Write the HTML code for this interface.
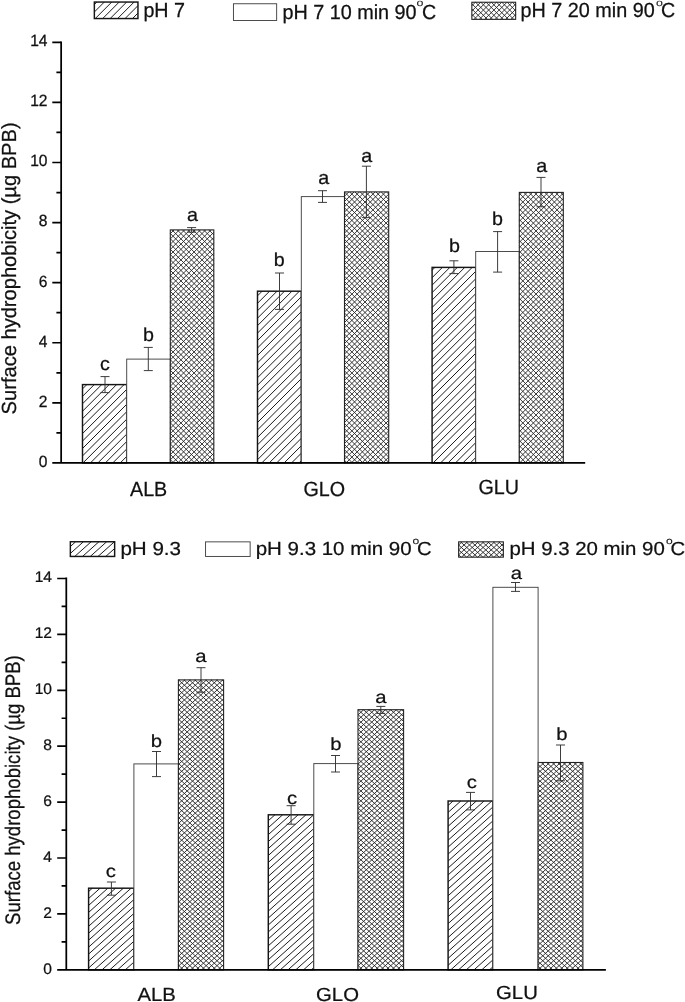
<!DOCTYPE html>
<html lang="en"><head><meta charset="utf-8"><title>Surface hydrophobicity</title>
<style>html,body{margin:0;padding:0;background:#fff}svg{display:block}text{font-family:'Liberation Sans', Arial, sans-serif;fill:#111;stroke:#111;stroke-width:0.25px;text-rendering:geometricPrecision}</style>
</head><body>
<svg width="685" height="1002" viewBox="0 0 685 1002">
<rect width="685" height="1002" fill="#fff"/>
<rect x="82.50" y="384.60" width="44.20" height="78.30" fill="#fff" stroke="none"/>
<path d="M82.50 388.90L86.80 384.60M82.50 396.35L94.25 384.60M82.50 403.80L101.70 384.60M82.50 411.25L109.15 384.60M82.50 418.70L116.60 384.60M82.50 426.15L124.05 384.60M82.50 433.60L126.70 389.40M82.50 441.05L126.70 396.85M82.50 448.50L126.70 404.30M82.50 455.95L126.70 411.75M83.00 462.90L126.70 419.20M90.45 462.90L126.70 426.65M97.90 462.90L126.70 434.10M105.35 462.90L126.70 441.55M112.80 462.90L126.70 449.00M120.25 462.90L126.70 456.45" fill="none" stroke="#1c1c1c" stroke-width="1.0"/>
<rect x="82.50" y="384.60" width="44.20" height="78.30" fill="none" stroke="#151515" stroke-width="1.45"/>
<rect x="126.70" y="359.10" width="43.60" height="103.80" fill="#fff" stroke="#444" stroke-width="0.95"/>
<rect x="170.30" y="229.90" width="43.50" height="233.00" fill="#fff" stroke="none"/>
<path d="M170.30 233.70L174.10 229.90M170.30 238.96L179.36 229.90M170.30 244.22L184.62 229.90M170.30 249.48L189.88 229.90M170.30 254.74L195.14 229.90M170.30 260.00L200.40 229.90M170.30 265.26L205.66 229.90M170.30 270.52L210.92 229.90M170.30 275.78L213.80 232.28M170.30 281.04L213.80 237.54M170.30 286.30L213.80 242.80M170.30 291.56L213.80 248.06M170.30 296.82L213.80 253.32M170.30 302.08L213.80 258.58M170.30 307.34L213.80 263.84M170.30 312.60L213.80 269.10M170.30 317.86L213.80 274.36M170.30 323.12L213.80 279.62M170.30 328.38L213.80 284.88M170.30 333.64L213.80 290.14M170.30 338.90L213.80 295.40M170.30 344.16L213.80 300.66M170.30 349.42L213.80 305.92M170.30 354.68L213.80 311.18M170.30 359.94L213.80 316.44M170.30 365.20L213.80 321.70M170.30 370.46L213.80 326.96M170.30 375.72L213.80 332.22M170.30 380.98L213.80 337.48M170.30 386.24L213.80 342.74M170.30 391.50L213.80 348.00M170.30 396.76L213.80 353.26M170.30 402.02L213.80 358.52M170.30 407.28L213.80 363.78M170.30 412.54L213.80 369.04M170.30 417.80L213.80 374.30M170.30 423.06L213.80 379.56M170.30 428.32L213.80 384.82M170.30 433.58L213.80 390.08M170.30 438.84L213.80 395.34M170.30 444.10L213.80 400.60M170.30 449.36L213.80 405.86M170.30 454.62L213.80 411.12M170.30 459.88L213.80 416.38M172.54 462.90L213.80 421.64M177.80 462.90L213.80 426.90M183.06 462.90L213.80 432.16M188.32 462.90L213.80 437.42M193.58 462.90L213.80 442.68M198.84 462.90L213.80 447.94M204.10 462.90L213.80 453.20M209.36 462.90L213.80 458.46M208.80 229.90L213.80 234.90M203.54 229.90L213.80 240.16M198.28 229.90L213.80 245.42M193.02 229.90L213.80 250.68M187.76 229.90L213.80 255.94M182.50 229.90L213.80 261.20M177.24 229.90L213.80 266.46M171.98 229.90L213.80 271.72M170.30 233.48L213.80 276.98M170.30 238.74L213.80 282.24M170.30 244.00L213.80 287.50M170.30 249.26L213.80 292.76M170.30 254.52L213.80 298.02M170.30 259.78L213.80 303.28M170.30 265.04L213.80 308.54M170.30 270.30L213.80 313.80M170.30 275.56L213.80 319.06M170.30 280.82L213.80 324.32M170.30 286.08L213.80 329.58M170.30 291.34L213.80 334.84M170.30 296.60L213.80 340.10M170.30 301.86L213.80 345.36M170.30 307.12L213.80 350.62M170.30 312.38L213.80 355.88M170.30 317.64L213.80 361.14M170.30 322.90L213.80 366.40M170.30 328.16L213.80 371.66M170.30 333.42L213.80 376.92M170.30 338.68L213.80 382.18M170.30 343.94L213.80 387.44M170.30 349.20L213.80 392.70M170.30 354.46L213.80 397.96M170.30 359.72L213.80 403.22M170.30 364.98L213.80 408.48M170.30 370.24L213.80 413.74M170.30 375.50L213.80 419.00M170.30 380.76L213.80 424.26M170.30 386.02L213.80 429.52M170.30 391.28L213.80 434.78M170.30 396.54L213.80 440.04M170.30 401.80L213.80 445.30M170.30 407.06L213.80 450.56M170.30 412.32L213.80 455.82M170.30 417.58L213.80 461.08M170.30 422.84L210.36 462.90M170.30 428.10L205.10 462.90M170.30 433.36L199.84 462.90M170.30 438.62L194.58 462.90M170.30 443.88L189.32 462.90M170.30 449.14L184.06 462.90M170.30 454.40L178.80 462.90M170.30 459.66L173.54 462.90" fill="none" stroke="#262626" stroke-width="0.92"/>
<rect x="170.30" y="229.90" width="43.50" height="233.00" fill="none" stroke="#222" stroke-width="1.1"/>
<rect x="257.50" y="291.20" width="43.80" height="171.70" fill="#fff" stroke="none"/>
<path d="M257.50 295.85L262.15 291.20M257.50 303.30L269.60 291.20M257.50 310.75L277.05 291.20M257.50 318.20L284.50 291.20M257.50 325.65L291.95 291.20M257.50 333.10L299.40 291.20M257.50 340.55L301.30 296.75M257.50 348.00L301.30 304.20M257.50 355.45L301.30 311.65M257.50 362.90L301.30 319.10M257.50 370.35L301.30 326.55M257.50 377.80L301.30 334.00M257.50 385.25L301.30 341.45M257.50 392.70L301.30 348.90M257.50 400.15L301.30 356.35M257.50 407.60L301.30 363.80M257.50 415.05L301.30 371.25M257.50 422.50L301.30 378.70M257.50 429.95L301.30 386.15M257.50 437.40L301.30 393.60M257.50 444.85L301.30 401.05M257.50 452.30L301.30 408.50M257.50 459.75L301.30 415.95M261.80 462.90L301.30 423.40M269.25 462.90L301.30 430.85M276.70 462.90L301.30 438.30M284.15 462.90L301.30 445.75M291.60 462.90L301.30 453.20M299.05 462.90L301.30 460.65" fill="none" stroke="#1c1c1c" stroke-width="1.0"/>
<rect x="257.50" y="291.20" width="43.80" height="171.70" fill="none" stroke="#151515" stroke-width="1.45"/>
<rect x="301.30" y="196.60" width="43.20" height="266.30" fill="#fff" stroke="#444" stroke-width="0.95"/>
<rect x="344.50" y="191.90" width="44.20" height="271.00" fill="#fff" stroke="none"/>
<path d="M344.50 196.26L348.86 191.90M344.50 201.52L354.12 191.90M344.50 206.78L359.38 191.90M344.50 212.04L364.64 191.90M344.50 217.30L369.90 191.90M344.50 222.56L375.16 191.90M344.50 227.82L380.42 191.90M344.50 233.08L385.68 191.90M344.50 238.34L388.70 194.14M344.50 243.60L388.70 199.40M344.50 248.86L388.70 204.66M344.50 254.12L388.70 209.92M344.50 259.38L388.70 215.18M344.50 264.64L388.70 220.44M344.50 269.90L388.70 225.70M344.50 275.16L388.70 230.96M344.50 280.42L388.70 236.22M344.50 285.68L388.70 241.48M344.50 290.94L388.70 246.74M344.50 296.20L388.70 252.00M344.50 301.46L388.70 257.26M344.50 306.72L388.70 262.52M344.50 311.98L388.70 267.78M344.50 317.24L388.70 273.04M344.50 322.50L388.70 278.30M344.50 327.76L388.70 283.56M344.50 333.02L388.70 288.82M344.50 338.28L388.70 294.08M344.50 343.54L388.70 299.34M344.50 348.80L388.70 304.60M344.50 354.06L388.70 309.86M344.50 359.32L388.70 315.12M344.50 364.58L388.70 320.38M344.50 369.84L388.70 325.64M344.50 375.10L388.70 330.90M344.50 380.36L388.70 336.16M344.50 385.62L388.70 341.42M344.50 390.88L388.70 346.68M344.50 396.14L388.70 351.94M344.50 401.40L388.70 357.20M344.50 406.66L388.70 362.46M344.50 411.92L388.70 367.72M344.50 417.18L388.70 372.98M344.50 422.44L388.70 378.24M344.50 427.70L388.70 383.50M344.50 432.96L388.70 388.76M344.50 438.22L388.70 394.02M344.50 443.48L388.70 399.28M344.50 448.74L388.70 404.54M344.50 454.00L388.70 409.80M344.50 459.26L388.70 415.06M346.12 462.90L388.70 420.32M351.38 462.90L388.70 425.58M356.64 462.90L388.70 430.84M361.90 462.90L388.70 436.10M367.16 462.90L388.70 441.36M372.42 462.90L388.70 446.62M377.68 462.90L388.70 451.88M382.94 462.90L388.70 457.14M388.20 462.90L388.70 462.40M386.46 191.90L388.70 194.14M381.20 191.90L388.70 199.40M375.94 191.90L388.70 204.66M370.68 191.90L388.70 209.92M365.42 191.90L388.70 215.18M360.16 191.90L388.70 220.44M354.90 191.90L388.70 225.70M349.64 191.90L388.70 230.96M344.50 192.02L388.70 236.22M344.50 197.28L388.70 241.48M344.50 202.54L388.70 246.74M344.50 207.80L388.70 252.00M344.50 213.06L388.70 257.26M344.50 218.32L388.70 262.52M344.50 223.58L388.70 267.78M344.50 228.84L388.70 273.04M344.50 234.10L388.70 278.30M344.50 239.36L388.70 283.56M344.50 244.62L388.70 288.82M344.50 249.88L388.70 294.08M344.50 255.14L388.70 299.34M344.50 260.40L388.70 304.60M344.50 265.66L388.70 309.86M344.50 270.92L388.70 315.12M344.50 276.18L388.70 320.38M344.50 281.44L388.70 325.64M344.50 286.70L388.70 330.90M344.50 291.96L388.70 336.16M344.50 297.22L388.70 341.42M344.50 302.48L388.70 346.68M344.50 307.74L388.70 351.94M344.50 313.00L388.70 357.20M344.50 318.26L388.70 362.46M344.50 323.52L388.70 367.72M344.50 328.78L388.70 372.98M344.50 334.04L388.70 378.24M344.50 339.30L388.70 383.50M344.50 344.56L388.70 388.76M344.50 349.82L388.70 394.02M344.50 355.08L388.70 399.28M344.50 360.34L388.70 404.54M344.50 365.60L388.70 409.80M344.50 370.86L388.70 415.06M344.50 376.12L388.70 420.32M344.50 381.38L388.70 425.58M344.50 386.64L388.70 430.84M344.50 391.90L388.70 436.10M344.50 397.16L388.70 441.36M344.50 402.42L388.70 446.62M344.50 407.68L388.70 451.88M344.50 412.94L388.70 457.14M344.50 418.20L388.70 462.40M344.50 423.46L383.94 462.90M344.50 428.72L378.68 462.90M344.50 433.98L373.42 462.90M344.50 439.24L368.16 462.90M344.50 444.50L362.90 462.90M344.50 449.76L357.64 462.90M344.50 455.02L352.38 462.90M344.50 460.28L347.12 462.90" fill="none" stroke="#262626" stroke-width="0.92"/>
<rect x="344.50" y="191.90" width="44.20" height="271.00" fill="none" stroke="#222" stroke-width="1.1"/>
<rect x="432.10" y="267.40" width="43.60" height="195.50" fill="#fff" stroke="none"/>
<path d="M432.10 270.25L434.95 267.40M432.10 277.70L442.40 267.40M432.10 285.15L449.85 267.40M432.10 292.60L457.30 267.40M432.10 300.05L464.75 267.40M432.10 307.50L472.20 267.40M432.10 314.95L475.70 271.35M432.10 322.40L475.70 278.80M432.10 329.85L475.70 286.25M432.10 337.30L475.70 293.70M432.10 344.75L475.70 301.15M432.10 352.20L475.70 308.60M432.10 359.65L475.70 316.05M432.10 367.10L475.70 323.50M432.10 374.55L475.70 330.95M432.10 382.00L475.70 338.40M432.10 389.45L475.70 345.85M432.10 396.90L475.70 353.30M432.10 404.35L475.70 360.75M432.10 411.80L475.70 368.20M432.10 419.25L475.70 375.65M432.10 426.70L475.70 383.10M432.10 434.15L475.70 390.55M432.10 441.60L475.70 398.00M432.10 449.05L475.70 405.45M432.10 456.50L475.70 412.90M433.15 462.90L475.70 420.35M440.60 462.90L475.70 427.80M448.05 462.90L475.70 435.25M455.50 462.90L475.70 442.70M462.95 462.90L475.70 450.15M470.40 462.90L475.70 457.60" fill="none" stroke="#1c1c1c" stroke-width="1.0"/>
<rect x="432.10" y="267.40" width="43.60" height="195.50" fill="none" stroke="#151515" stroke-width="1.45"/>
<rect x="475.70" y="251.50" width="43.60" height="211.40" fill="#fff" stroke="#444" stroke-width="0.95"/>
<rect x="519.30" y="192.40" width="44.00" height="270.50" fill="#fff" stroke="none"/>
<path d="M519.30 195.04L521.94 192.40M519.30 200.30L527.20 192.40M519.30 205.56L532.46 192.40M519.30 210.82L537.72 192.40M519.30 216.08L542.98 192.40M519.30 221.34L548.24 192.40M519.30 226.60L553.50 192.40M519.30 231.86L558.76 192.40M519.30 237.12L563.30 193.12M519.30 242.38L563.30 198.38M519.30 247.64L563.30 203.64M519.30 252.90L563.30 208.90M519.30 258.16L563.30 214.16M519.30 263.42L563.30 219.42M519.30 268.68L563.30 224.68M519.30 273.94L563.30 229.94M519.30 279.20L563.30 235.20M519.30 284.46L563.30 240.46M519.30 289.72L563.30 245.72M519.30 294.98L563.30 250.98M519.30 300.24L563.30 256.24M519.30 305.50L563.30 261.50M519.30 310.76L563.30 266.76M519.30 316.02L563.30 272.02M519.30 321.28L563.30 277.28M519.30 326.54L563.30 282.54M519.30 331.80L563.30 287.80M519.30 337.06L563.30 293.06M519.30 342.32L563.30 298.32M519.30 347.58L563.30 303.58M519.30 352.84L563.30 308.84M519.30 358.10L563.30 314.10M519.30 363.36L563.30 319.36M519.30 368.62L563.30 324.62M519.30 373.88L563.30 329.88M519.30 379.14L563.30 335.14M519.30 384.40L563.30 340.40M519.30 389.66L563.30 345.66M519.30 394.92L563.30 350.92M519.30 400.18L563.30 356.18M519.30 405.44L563.30 361.44M519.30 410.70L563.30 366.70M519.30 415.96L563.30 371.96M519.30 421.22L563.30 377.22M519.30 426.48L563.30 382.48M519.30 431.74L563.30 387.74M519.30 437.00L563.30 393.00M519.30 442.26L563.30 398.26M519.30 447.52L563.30 403.52M519.30 452.78L563.30 408.78M519.30 458.04L563.30 414.04M519.70 462.90L563.30 419.30M524.96 462.90L563.30 424.56M530.22 462.90L563.30 429.82M535.48 462.90L563.30 435.08M540.74 462.90L563.30 440.34M546.00 462.90L563.30 445.60M551.26 462.90L563.30 450.86M556.52 462.90L563.30 456.12M561.78 462.90L563.30 461.38M560.54 192.40L563.30 195.16M555.28 192.40L563.30 200.42M550.02 192.40L563.30 205.68M544.76 192.40L563.30 210.94M539.50 192.40L563.30 216.20M534.24 192.40L563.30 221.46M528.98 192.40L563.30 226.72M523.72 192.40L563.30 231.98M519.30 193.24L563.30 237.24M519.30 198.50L563.30 242.50M519.30 203.76L563.30 247.76M519.30 209.02L563.30 253.02M519.30 214.28L563.30 258.28M519.30 219.54L563.30 263.54M519.30 224.80L563.30 268.80M519.30 230.06L563.30 274.06M519.30 235.32L563.30 279.32M519.30 240.58L563.30 284.58M519.30 245.84L563.30 289.84M519.30 251.10L563.30 295.10M519.30 256.36L563.30 300.36M519.30 261.62L563.30 305.62M519.30 266.88L563.30 310.88M519.30 272.14L563.30 316.14M519.30 277.40L563.30 321.40M519.30 282.66L563.30 326.66M519.30 287.92L563.30 331.92M519.30 293.18L563.30 337.18M519.30 298.44L563.30 342.44M519.30 303.70L563.30 347.70M519.30 308.96L563.30 352.96M519.30 314.22L563.30 358.22M519.30 319.48L563.30 363.48M519.30 324.74L563.30 368.74M519.30 330.00L563.30 374.00M519.30 335.26L563.30 379.26M519.30 340.52L563.30 384.52M519.30 345.78L563.30 389.78M519.30 351.04L563.30 395.04M519.30 356.30L563.30 400.30M519.30 361.56L563.30 405.56M519.30 366.82L563.30 410.82M519.30 372.08L563.30 416.08M519.30 377.34L563.30 421.34M519.30 382.60L563.30 426.60M519.30 387.86L563.30 431.86M519.30 393.12L563.30 437.12M519.30 398.38L563.30 442.38M519.30 403.64L563.30 447.64M519.30 408.90L563.30 452.90M519.30 414.16L563.30 458.16M519.30 419.42L562.78 462.90M519.30 424.68L557.52 462.90M519.30 429.94L552.26 462.90M519.30 435.20L547.00 462.90M519.30 440.46L541.74 462.90M519.30 445.72L536.48 462.90M519.30 450.98L531.22 462.90M519.30 456.24L525.96 462.90M519.30 461.50L520.70 462.90" fill="none" stroke="#262626" stroke-width="0.92"/>
<rect x="519.30" y="192.40" width="44.00" height="270.50" fill="none" stroke="#222" stroke-width="1.1"/>
<path d="M100.50 376.60H109.50M100.50 392.60H109.50M105.00 376.60V392.60" fill="none" stroke="#333" stroke-width="0.95"/>
<path d="M143.80 347.40H152.80M143.80 370.60H152.80M148.30 347.40V370.60" fill="none" stroke="#333" stroke-width="0.95"/>
<path d="M187.10 227.60H196.10M187.10 232.20H196.10M191.60 227.60V232.20" fill="none" stroke="#333" stroke-width="0.95"/>
<path d="M275.00 273.00H284.00M275.00 309.40H284.00M279.50 273.00V309.40" fill="none" stroke="#333" stroke-width="0.95"/>
<path d="M318.00 190.70H327.00M318.00 202.40H327.00M322.50 190.70V202.40" fill="none" stroke="#333" stroke-width="0.95"/>
<path d="M361.90 166.20H370.90M361.90 217.60H370.90M366.40 166.20V217.60" fill="none" stroke="#333" stroke-width="0.95"/>
<path d="M449.40 260.80H458.40M449.40 273.60H458.40M453.90 260.80V273.60" fill="none" stroke="#333" stroke-width="0.95"/>
<path d="M493.10 231.60H502.10M493.10 272.10H502.10M497.60 231.60V272.10" fill="none" stroke="#333" stroke-width="0.95"/>
<path d="M536.50 177.40H545.50M536.50 206.80H545.50M541.00 177.40V206.80" fill="none" stroke="#333" stroke-width="0.95"/>
<path d="M61.15 41.44V463.80M52.30 462.90H585.20" fill="none" stroke="#000" stroke-width="1.75"/>
<path d="M56.40 432.86H61.15M52.30 402.82H61.15M56.40 372.78H61.15M52.30 342.74H61.15M56.40 312.70H61.15M52.30 282.66H61.15M56.40 252.62H61.15M52.30 222.58H61.15M56.40 192.54H61.15M52.30 162.50H61.15M56.40 132.46H61.15M52.30 102.42H61.15M56.40 72.38H61.15M52.30 42.34H61.15" fill="none" stroke="#000" stroke-width="1.7"/>
<text transform="translate(47.50 466.80) scale(1 1.04)" font-size="15.6" text-anchor="end">0</text>
<text transform="translate(47.50 406.72) scale(1 1.04)" font-size="15.6" text-anchor="end">2</text>
<text transform="translate(47.50 346.64) scale(1 1.04)" font-size="15.6" text-anchor="end">4</text>
<text transform="translate(47.50 286.56) scale(1 1.04)" font-size="15.6" text-anchor="end">6</text>
<text transform="translate(47.50 226.48) scale(1 1.04)" font-size="15.6" text-anchor="end">8</text>
<text transform="translate(47.50 166.40) scale(1 1.04)" font-size="15.6" text-anchor="end">10</text>
<text transform="translate(47.50 106.32) scale(1 1.04)" font-size="15.6" text-anchor="end">12</text>
<text transform="translate(47.50 46.24) scale(1 1.04)" font-size="15.6" text-anchor="end">14</text>
<text transform="translate(104.80 370.30) scale(1 0.955)" font-size="19.7" text-anchor="middle">c</text>
<text transform="translate(148.50 340.80) scale(1 0.955)" font-size="19.7" text-anchor="middle">b</text>
<text transform="translate(192.50 220.70) scale(1 0.955)" font-size="19.7" text-anchor="middle">a</text>
<text transform="translate(279.30 266.00) scale(1 0.955)" font-size="19.7" text-anchor="middle">b</text>
<text transform="translate(323.60 184.00) scale(1 0.955)" font-size="19.7" text-anchor="middle">a</text>
<text transform="translate(366.70 161.60) scale(1 0.955)" font-size="19.7" text-anchor="middle">a</text>
<text transform="translate(454.40 251.90) scale(1 0.955)" font-size="19.7" text-anchor="middle">b</text>
<text transform="translate(497.40 224.70) scale(1 0.955)" font-size="19.7" text-anchor="middle">b</text>
<text transform="translate(541.80 171.80) scale(1 0.955)" font-size="19.7" text-anchor="middle">a</text>
<text transform="translate(130.00 496.00) scale(1 1.035)" font-size="19.7">ALB</text>
<text transform="translate(303.50 495.90) scale(1 1.035)" font-size="19.7">GLO</text>
<text transform="translate(478.50 494.10) scale(1 1.035)" font-size="19.7">GLU</text>
<rect x="94.35" y="2.05" width="43.60" height="16.50" fill="#fff" stroke="none"/>
<path d="M94.35 4.55L96.85 2.05M94.35 12.00L104.30 2.05M95.25 18.55L111.75 2.05M102.70 18.55L119.20 2.05M110.15 18.55L126.65 2.05M117.60 18.55L134.10 2.05M125.05 18.55L137.95 5.65M132.50 18.55L137.95 13.10" fill="none" stroke="#1c1c1c" stroke-width="1.0"/>
<rect x="94.35" y="2.05" width="43.60" height="16.50" fill="none" stroke="#151515" stroke-width="1.45"/>
<text transform="translate(143.40 16.90) scale(1.0 1.035)" font-size="19.7">pH 7</text>
<rect x="233.45" y="3.75" width="43.20" height="16.75" fill="#fff" stroke="#444" stroke-width="0.95"/>
<text transform="translate(282.40 18.90) scale(1.0045 1.035)" font-size="19.7">pH 7 10 min 90</text>
<text transform="translate(416.50 5.70) scale(1.13 0.9)" font-size="11" style="stroke-width:0.1px;fill:#222">o</text>
<text transform="translate(422.10 18.90) scale(1 1.035)" font-size="19.7">C</text>
<rect x="471.85" y="2.25" width="43.80" height="17.10" fill="#fff" stroke="none"/>
<path d="M471.85 5.79L475.39 2.25M471.85 11.05L480.65 2.25M471.85 16.31L485.91 2.25M474.07 19.35L491.17 2.25M479.33 19.35L496.43 2.25M484.59 19.35L501.69 2.25M489.85 19.35L506.95 2.25M495.11 19.35L512.21 2.25M500.37 19.35L515.65 4.07M505.63 19.35L515.65 9.33M510.89 19.35L515.65 14.59M512.41 2.25L515.65 5.49M507.15 2.25L515.65 10.75M501.89 2.25L515.65 16.01M496.63 2.25L513.73 19.35M491.37 2.25L508.47 19.35M486.11 2.25L503.21 19.35M480.85 2.25L497.95 19.35M475.59 2.25L492.69 19.35M471.85 3.77L487.43 19.35M471.85 9.03L482.17 19.35M471.85 14.29L476.91 19.35" fill="none" stroke="#262626" stroke-width="0.92"/>
<rect x="471.85" y="2.25" width="43.80" height="17.10" fill="none" stroke="#222" stroke-width="1.1"/>
<text transform="translate(520.60 17.40) scale(1.0045 1.035)" font-size="19.7">pH 7 20 min 90</text>
<text transform="translate(656.10 5.60) scale(1.13 0.9)" font-size="11" style="stroke-width:0.1px;fill:#222">o</text>
<text transform="translate(660.90 17.40) scale(1 1.035)" font-size="19.7">C</text>
<text transform="translate(15.50 414.40) rotate(-90) scale(1.021 1.035)" font-size="19.7">Surface hydrophobicity (µg BPB)</text>
<rect x="88.60" y="888.20" width="45.30" height="81.60" fill="#fff" stroke="none"/>
<path d="M88.60 891.55L92.33 888.20M88.60 898.50L100.08 888.20M88.60 905.45L107.83 888.20M88.60 912.40L115.58 888.20M88.60 919.35L123.33 888.20M88.60 926.30L131.08 888.20M88.60 933.25L133.90 892.62M88.60 940.20L133.90 899.57M88.60 947.15L133.90 906.52M88.60 954.10L133.90 913.47M88.60 961.05L133.90 920.42M88.60 968.00L133.90 927.37M94.34 969.80L133.90 934.32M102.09 969.80L133.90 941.27M109.84 969.80L133.90 948.22M117.59 969.80L133.90 955.17M125.34 969.80L133.90 962.12M133.09 969.80L133.90 969.07" fill="none" stroke="#1c1c1c" stroke-width="1.0"/>
<rect x="88.60" y="888.20" width="45.30" height="81.60" fill="none" stroke="#151515" stroke-width="1.45"/>
<rect x="133.90" y="763.90" width="44.50" height="205.90" fill="#fff" stroke="#444" stroke-width="0.95"/>
<rect x="178.40" y="679.90" width="45.20" height="289.90" fill="#fff" stroke="none"/>
<path d="M178.40 680.81L179.41 679.90M178.40 685.73L184.84 679.90M178.40 690.65L190.27 679.90M178.40 695.57L195.70 679.90M178.40 700.49L201.13 679.90M178.40 705.41L206.56 679.90M178.40 710.33L211.99 679.90M178.40 715.25L217.42 679.90M178.40 720.17L222.85 679.90M178.40 725.09L223.60 684.14M178.40 730.01L223.60 689.06M178.40 734.93L223.60 693.98M178.40 739.85L223.60 698.90M178.40 744.77L223.60 703.82M178.40 749.69L223.60 708.74M178.40 754.61L223.60 713.66M178.40 759.53L223.60 718.58M178.40 764.45L223.60 723.50M178.40 769.37L223.60 728.42M178.40 774.29L223.60 733.34M178.40 779.21L223.60 738.26M178.40 784.13L223.60 743.18M178.40 789.05L223.60 748.10M178.40 793.97L223.60 753.02M178.40 798.89L223.60 757.94M178.40 803.81L223.60 762.86M178.40 808.73L223.60 767.78M178.40 813.65L223.60 772.70M178.40 818.57L223.60 777.62M178.40 823.49L223.60 782.54M178.40 828.41L223.60 787.46M178.40 833.33L223.60 792.38M178.40 838.25L223.60 797.30M178.40 843.17L223.60 802.22M178.40 848.09L223.60 807.14M178.40 853.01L223.60 812.06M178.40 857.93L223.60 816.98M178.40 862.85L223.60 821.90M178.40 867.77L223.60 826.82M178.40 872.69L223.60 831.74M178.40 877.61L223.60 836.66M178.40 882.53L223.60 841.58M178.40 887.45L223.60 846.50M178.40 892.37L223.60 851.42M178.40 897.29L223.60 856.34M178.40 902.21L223.60 861.26M178.40 907.13L223.60 866.18M178.40 912.05L223.60 871.10M178.40 916.97L223.60 876.02M178.40 921.89L223.60 880.94M178.40 926.81L223.60 885.86M178.40 931.73L223.60 890.78M178.40 936.65L223.60 895.70M178.40 941.57L223.60 900.62M178.40 946.49L223.60 905.54M178.40 951.41L223.60 910.46M178.40 956.33L223.60 915.38M178.40 961.25L223.60 920.30M178.40 966.17L223.60 925.22M179.82 969.80L223.60 930.14M185.25 969.80L223.60 935.06M190.68 969.80L223.60 939.98M196.11 969.80L223.60 944.90M201.54 969.80L223.60 949.82M206.97 969.80L223.60 954.74M212.40 969.80L223.60 959.66M217.83 969.80L223.60 964.58M223.26 969.80L223.60 969.50M221.98 679.90L223.60 681.36M216.55 679.90L223.60 686.28M211.12 679.90L223.60 691.20M205.69 679.90L223.60 696.12M200.26 679.90L223.60 701.04M194.83 679.90L223.60 705.96M189.40 679.90L223.60 710.88M183.97 679.90L223.60 715.80M178.54 679.90L223.60 720.72M178.40 684.69L223.60 725.64M178.40 689.61L223.60 730.56M178.40 694.53L223.60 735.48M178.40 699.45L223.60 740.40M178.40 704.37L223.60 745.32M178.40 709.29L223.60 750.24M178.40 714.21L223.60 755.16M178.40 719.13L223.60 760.08M178.40 724.05L223.60 765.00M178.40 728.97L223.60 769.92M178.40 733.89L223.60 774.84M178.40 738.81L223.60 779.76M178.40 743.73L223.60 784.68M178.40 748.65L223.60 789.60M178.40 753.57L223.60 794.52M178.40 758.49L223.60 799.44M178.40 763.41L223.60 804.36M178.40 768.33L223.60 809.28M178.40 773.25L223.60 814.20M178.40 778.17L223.60 819.12M178.40 783.09L223.60 824.04M178.40 788.01L223.60 828.96M178.40 792.93L223.60 833.88M178.40 797.85L223.60 838.80M178.40 802.77L223.60 843.72M178.40 807.69L223.60 848.64M178.40 812.61L223.60 853.56M178.40 817.53L223.60 858.48M178.40 822.45L223.60 863.40M178.40 827.37L223.60 868.32M178.40 832.29L223.60 873.24M178.40 837.21L223.60 878.16M178.40 842.13L223.60 883.08M178.40 847.05L223.60 888.00M178.40 851.97L223.60 892.92M178.40 856.89L223.60 897.84M178.40 861.81L223.60 902.76M178.40 866.73L223.60 907.68M178.40 871.65L223.60 912.60M178.40 876.57L223.60 917.52M178.40 881.49L223.60 922.44M178.40 886.41L223.60 927.36M178.40 891.33L223.60 932.28M178.40 896.25L223.60 937.20M178.40 901.17L223.60 942.12M178.40 906.09L223.60 947.04M178.40 911.01L223.60 951.96M178.40 915.93L223.60 956.88M178.40 920.85L223.60 961.80M178.40 925.77L223.60 966.72M178.40 930.69L221.57 969.80M178.40 935.61L216.14 969.80M178.40 940.53L210.71 969.80M178.40 945.45L205.28 969.80M178.40 950.37L199.85 969.80M178.40 955.29L194.42 969.80M178.40 960.21L188.99 969.80M178.40 965.13L183.56 969.80" fill="none" stroke="#262626" stroke-width="0.92"/>
<rect x="178.40" y="679.90" width="45.20" height="289.90" fill="none" stroke="#222" stroke-width="1.1"/>
<rect x="268.30" y="814.80" width="45.50" height="155.00" fill="#fff" stroke="none"/>
<path d="M268.30 820.75L274.93 814.80M268.30 827.70L282.68 814.80M268.30 834.65L290.43 814.80M268.30 841.60L298.18 814.80M268.30 848.55L305.93 814.80M268.30 855.50L313.68 814.80M268.30 862.45L313.80 821.64M268.30 869.40L313.80 828.59M268.30 876.35L313.80 835.54M268.30 883.30L313.80 842.49M268.30 890.25L313.80 849.44M268.30 897.20L313.80 856.39M268.30 904.15L313.80 863.34M268.30 911.10L313.80 870.29M268.30 918.05L313.80 877.24M268.30 925.00L313.80 884.19M268.30 931.95L313.80 891.14M268.30 938.90L313.80 898.09M268.30 945.85L313.80 905.04M268.30 952.80L313.80 911.99M268.30 959.75L313.80 918.94M268.30 966.70L313.80 925.89M272.59 969.80L313.80 932.84M280.34 969.80L313.80 939.79M288.09 969.80L313.80 946.74M295.84 969.80L313.80 953.69M303.59 969.80L313.80 960.64M311.34 969.80L313.80 967.59" fill="none" stroke="#1c1c1c" stroke-width="1.0"/>
<rect x="268.30" y="814.80" width="45.50" height="155.00" fill="none" stroke="#151515" stroke-width="1.45"/>
<rect x="313.80" y="763.60" width="44.20" height="206.20" fill="#fff" stroke="#444" stroke-width="0.95"/>
<rect x="358.00" y="709.70" width="45.60" height="260.10" fill="#fff" stroke="none"/>
<path d="M358.00 709.96L358.29 709.70M358.00 714.88L363.72 709.70M358.00 719.80L369.15 709.70M358.00 724.72L374.58 709.70M358.00 729.64L380.01 709.70M358.00 734.56L385.44 709.70M358.00 739.48L390.87 709.70M358.00 744.40L396.30 709.70M358.00 749.32L401.73 709.70M358.00 754.24L403.60 712.92M358.00 759.16L403.60 717.84M358.00 764.08L403.60 722.76M358.00 769.00L403.60 727.68M358.00 773.92L403.60 732.60M358.00 778.84L403.60 737.52M358.00 783.76L403.60 742.44M358.00 788.68L403.60 747.36M358.00 793.60L403.60 752.28M358.00 798.52L403.60 757.20M358.00 803.44L403.60 762.12M358.00 808.36L403.60 767.04M358.00 813.28L403.60 771.96M358.00 818.20L403.60 776.88M358.00 823.12L403.60 781.80M358.00 828.04L403.60 786.72M358.00 832.96L403.60 791.64M358.00 837.88L403.60 796.56M358.00 842.80L403.60 801.48M358.00 847.72L403.60 806.40M358.00 852.64L403.60 811.32M358.00 857.56L403.60 816.24M358.00 862.48L403.60 821.16M358.00 867.40L403.60 826.08M358.00 872.32L403.60 831.00M358.00 877.24L403.60 835.92M358.00 882.16L403.60 840.84M358.00 887.08L403.60 845.76M358.00 892.00L403.60 850.68M358.00 896.92L403.60 855.60M358.00 901.84L403.60 860.52M358.00 906.76L403.60 865.44M358.00 911.68L403.60 870.36M358.00 916.60L403.60 875.28M358.00 921.52L403.60 880.20M358.00 926.44L403.60 885.12M358.00 931.36L403.60 890.04M358.00 936.28L403.60 894.96M358.00 941.20L403.60 899.88M358.00 946.12L403.60 904.80M358.00 951.04L403.60 909.72M358.00 955.96L403.60 914.64M358.00 960.88L403.60 919.56M358.00 965.80L403.60 924.48M359.01 969.80L403.60 929.40M364.44 969.80L403.60 934.32M369.87 969.80L403.60 939.24M375.30 969.80L403.60 944.16M380.73 969.80L403.60 949.08M386.16 969.80L403.60 954.00M391.59 969.80L403.60 958.92M397.02 969.80L403.60 963.84M402.45 969.80L403.60 968.76M401.48 709.70L403.60 711.62M396.05 709.70L403.60 716.54M390.62 709.70L403.60 721.46M385.19 709.70L403.60 726.38M379.76 709.70L403.60 731.30M374.33 709.70L403.60 736.22M368.90 709.70L403.60 741.14M363.47 709.70L403.60 746.06M358.04 709.70L403.60 750.98M358.00 714.58L403.60 755.90M358.00 719.50L403.60 760.82M358.00 724.42L403.60 765.74M358.00 729.34L403.60 770.66M358.00 734.26L403.60 775.58M358.00 739.18L403.60 780.50M358.00 744.10L403.60 785.42M358.00 749.02L403.60 790.34M358.00 753.94L403.60 795.26M358.00 758.86L403.60 800.18M358.00 763.78L403.60 805.10M358.00 768.70L403.60 810.02M358.00 773.62L403.60 814.94M358.00 778.54L403.60 819.86M358.00 783.46L403.60 824.78M358.00 788.38L403.60 829.70M358.00 793.30L403.60 834.62M358.00 798.22L403.60 839.54M358.00 803.14L403.60 844.46M358.00 808.06L403.60 849.38M358.00 812.98L403.60 854.30M358.00 817.90L403.60 859.22M358.00 822.82L403.60 864.14M358.00 827.74L403.60 869.06M358.00 832.66L403.60 873.98M358.00 837.58L403.60 878.90M358.00 842.50L403.60 883.82M358.00 847.42L403.60 888.74M358.00 852.34L403.60 893.66M358.00 857.26L403.60 898.58M358.00 862.18L403.60 903.50M358.00 867.10L403.60 908.42M358.00 872.02L403.60 913.34M358.00 876.94L403.60 918.26M358.00 881.86L403.60 923.18M358.00 886.78L403.60 928.10M358.00 891.70L403.60 933.02M358.00 896.62L403.60 937.94M358.00 901.54L403.60 942.86M358.00 906.46L403.60 947.78M358.00 911.38L403.60 952.70M358.00 916.30L403.60 957.62M358.00 921.22L403.60 962.54M358.00 926.14L403.60 967.46M358.00 931.06L400.76 969.80M358.00 935.98L395.33 969.80M358.00 940.90L389.90 969.80M358.00 945.82L384.47 969.80M358.00 950.74L379.04 969.80M358.00 955.66L373.61 969.80M358.00 960.58L368.18 969.80M358.00 965.50L362.75 969.80" fill="none" stroke="#262626" stroke-width="0.92"/>
<rect x="358.00" y="709.70" width="45.60" height="260.10" fill="none" stroke="#222" stroke-width="1.1"/>
<rect x="448.10" y="801.00" width="44.80" height="168.80" fill="#fff" stroke="none"/>
<path d="M448.10 805.46L453.07 801.00M448.10 812.41L460.82 801.00M448.10 819.36L468.57 801.00M448.10 826.31L476.32 801.00M448.10 833.26L484.07 801.00M448.10 840.21L491.82 801.00M448.10 847.16L492.90 806.98M448.10 854.11L492.90 813.93M448.10 861.06L492.90 820.88M448.10 868.01L492.90 827.83M448.10 874.96L492.90 834.78M448.10 881.91L492.90 841.73M448.10 888.86L492.90 848.68M448.10 895.81L492.90 855.63M448.10 902.76L492.90 862.58M448.10 909.71L492.90 869.53M448.10 916.66L492.90 876.48M448.10 923.61L492.90 883.43M448.10 930.56L492.90 890.38M448.10 937.51L492.90 897.33M448.10 944.46L492.90 904.28M448.10 951.41L492.90 911.23M448.10 958.36L492.90 918.18M448.10 965.31L492.90 925.13M450.84 969.80L492.90 932.08M458.59 969.80L492.90 939.03M466.34 969.80L492.90 945.98M474.09 969.80L492.90 952.93M481.84 969.80L492.90 959.88M489.59 969.80L492.90 966.83" fill="none" stroke="#1c1c1c" stroke-width="1.0"/>
<rect x="448.10" y="801.00" width="44.80" height="168.80" fill="none" stroke="#151515" stroke-width="1.45"/>
<rect x="492.90" y="587.30" width="45.20" height="382.50" fill="#fff" stroke="#444" stroke-width="0.95"/>
<rect x="538.10" y="762.50" width="44.80" height="207.30" fill="#fff" stroke="none"/>
<path d="M538.10 763.25L538.93 762.50M538.10 768.17L544.36 762.50M538.10 773.09L549.79 762.50M538.10 778.01L555.22 762.50M538.10 782.93L560.65 762.50M538.10 787.85L566.08 762.50M538.10 792.77L571.51 762.50M538.10 797.69L576.94 762.50M538.10 802.61L582.37 762.50M538.10 807.53L582.90 766.94M538.10 812.45L582.90 771.86M538.10 817.37L582.90 776.78M538.10 822.29L582.90 781.70M538.10 827.21L582.90 786.62M538.10 832.13L582.90 791.54M538.10 837.05L582.90 796.46M538.10 841.97L582.90 801.38M538.10 846.89L582.90 806.30M538.10 851.81L582.90 811.22M538.10 856.73L582.90 816.14M538.10 861.65L582.90 821.06M538.10 866.57L582.90 825.98M538.10 871.49L582.90 830.90M538.10 876.41L582.90 835.82M538.10 881.33L582.90 840.74M538.10 886.25L582.90 845.66M538.10 891.17L582.90 850.58M538.10 896.09L582.90 855.50M538.10 901.01L582.90 860.42M538.10 905.93L582.90 865.34M538.10 910.85L582.90 870.26M538.10 915.77L582.90 875.18M538.10 920.69L582.90 880.10M538.10 925.61L582.90 885.02M538.10 930.53L582.90 889.94M538.10 935.45L582.90 894.86M538.10 940.37L582.90 899.78M538.10 945.29L582.90 904.70M538.10 950.21L582.90 909.62M538.10 955.13L582.90 914.54M538.10 960.05L582.90 919.46M538.10 964.97L582.90 924.38M538.20 969.80L582.90 929.30M543.63 969.80L582.90 934.22M549.06 969.80L582.90 939.14M554.49 969.80L582.90 944.06M559.92 969.80L582.90 948.98M565.35 969.80L582.90 953.90M570.78 969.80L582.90 958.82M576.21 969.80L582.90 963.74M581.64 969.80L582.90 968.66M579.22 762.50L582.90 765.84M573.79 762.50L582.90 770.76M568.36 762.50L582.90 775.68M562.93 762.50L582.90 780.60M557.50 762.50L582.90 785.52M552.07 762.50L582.90 790.44M546.64 762.50L582.90 795.36M541.21 762.50L582.90 800.28M538.10 764.61L582.90 805.20M538.10 769.53L582.90 810.12M538.10 774.45L582.90 815.04M538.10 779.37L582.90 819.96M538.10 784.29L582.90 824.88M538.10 789.21L582.90 829.80M538.10 794.13L582.90 834.72M538.10 799.05L582.90 839.64M538.10 803.97L582.90 844.56M538.10 808.89L582.90 849.48M538.10 813.81L582.90 854.40M538.10 818.73L582.90 859.32M538.10 823.65L582.90 864.24M538.10 828.57L582.90 869.16M538.10 833.49L582.90 874.08M538.10 838.41L582.90 879.00M538.10 843.33L582.90 883.92M538.10 848.25L582.90 888.84M538.10 853.17L582.90 893.76M538.10 858.09L582.90 898.68M538.10 863.01L582.90 903.60M538.10 867.93L582.90 908.52M538.10 872.85L582.90 913.44M538.10 877.77L582.90 918.36M538.10 882.69L582.90 923.28M538.10 887.61L582.90 928.20M538.10 892.53L582.90 933.12M538.10 897.45L582.90 938.04M538.10 902.37L582.90 942.96M538.10 907.29L582.90 947.88M538.10 912.21L582.90 952.80M538.10 917.13L582.90 957.72M538.10 922.05L582.90 962.64M538.10 926.97L582.90 967.56M538.10 931.89L579.95 969.80M538.10 936.81L574.52 969.80M538.10 941.73L569.09 969.80M538.10 946.65L563.66 969.80M538.10 951.57L558.23 969.80M538.10 956.49L552.80 969.80M538.10 961.41L547.37 969.80M538.10 966.33L541.94 969.80" fill="none" stroke="#262626" stroke-width="0.92"/>
<rect x="538.10" y="762.50" width="44.80" height="207.30" fill="none" stroke="#222" stroke-width="1.1"/>
<path d="M106.90 882.00H115.90M106.90 895.20H115.90M111.40 882.00V895.20" fill="none" stroke="#333" stroke-width="0.95"/>
<path d="M152.00 751.50H161.00M152.00 776.60H161.00M156.50 751.50V776.60" fill="none" stroke="#333" stroke-width="0.95"/>
<path d="M196.50 667.70H205.50M196.50 692.20H205.50M201.00 667.70V692.20" fill="none" stroke="#333" stroke-width="0.95"/>
<path d="M286.60 805.70H295.60M286.60 824.20H295.60M291.10 805.70V824.20" fill="none" stroke="#333" stroke-width="0.95"/>
<path d="M331.00 755.50H340.00M331.00 772.00H340.00M335.50 755.50V772.00" fill="none" stroke="#333" stroke-width="0.95"/>
<path d="M376.30 706.40H385.30M376.30 713.40H385.30M380.80 706.40V713.40" fill="none" stroke="#333" stroke-width="0.95"/>
<path d="M466.00 792.40H475.00M466.00 809.90H475.00M470.50 792.40V809.90" fill="none" stroke="#333" stroke-width="0.95"/>
<path d="M511.00 582.50H520.00M511.00 591.40H520.00M515.50 582.50V591.40" fill="none" stroke="#333" stroke-width="0.95"/>
<path d="M556.00 745.00H565.00M556.00 780.80H565.00M560.50 745.00V780.80" fill="none" stroke="#333" stroke-width="0.95"/>
<path d="M66.30 577.60V970.70M57.20 969.80H605.90" fill="none" stroke="#000" stroke-width="1.75"/>
<path d="M61.60 941.85H66.30M57.20 913.90H66.30M61.60 885.95H66.30M57.20 858.00H66.30M61.60 830.05H66.30M57.20 802.10H66.30M61.60 774.15H66.30M57.20 746.20H66.30M61.60 718.25H66.30M57.20 690.30H66.30M61.60 662.35H66.30M57.20 634.40H66.30M61.60 606.45H66.30M57.20 578.50H66.30" fill="none" stroke="#000" stroke-width="1.7"/>
<text transform="translate(52.00 973.55) scale(1.0 0.98)" font-size="15.6" text-anchor="end">0</text>
<text transform="translate(52.00 917.65) scale(1.0 0.98)" font-size="15.6" text-anchor="end">2</text>
<text transform="translate(52.00 861.75) scale(1.0 0.98)" font-size="15.6" text-anchor="end">4</text>
<text transform="translate(52.00 805.85) scale(1.0 0.98)" font-size="15.6" text-anchor="end">6</text>
<text transform="translate(52.00 749.95) scale(1.0 0.98)" font-size="15.6" text-anchor="end">8</text>
<text transform="translate(52.00 694.05) scale(1.0 0.98)" font-size="15.6" text-anchor="end">10</text>
<text transform="translate(52.00 638.15) scale(1.0 0.98)" font-size="15.6" text-anchor="end">12</text>
<text transform="translate(52.00 582.25) scale(1.0 0.98)" font-size="15.6" text-anchor="end">14</text>
<text transform="translate(110.75 877.40) scale(1.03 0.89)" font-size="19.7" text-anchor="middle">c</text>
<text transform="translate(156.50 746.70) scale(1.03 0.89)" font-size="19.7" text-anchor="middle">b</text>
<text transform="translate(200.90 661.95) scale(1.03 0.89)" font-size="19.7" text-anchor="middle">a</text>
<text transform="translate(292.10 803.70) scale(1.03 0.89)" font-size="19.7" text-anchor="middle">c</text>
<text transform="translate(335.80 749.90) scale(1.03 0.89)" font-size="19.7" text-anchor="middle">b</text>
<text transform="translate(381.00 702.95) scale(1.03 0.89)" font-size="19.7" text-anchor="middle">a</text>
<text transform="translate(471.80 788.25) scale(1.03 0.89)" font-size="19.7" text-anchor="middle">c</text>
<text transform="translate(516.40 578.70) scale(1.03 0.89)" font-size="19.7" text-anchor="middle">a</text>
<text transform="translate(562.00 740.45) scale(1.03 0.89)" font-size="19.7" text-anchor="middle">b</text>
<text transform="translate(137.50 1000.60) scale(1.03 0.963)" font-size="19.7">ALB</text>
<text transform="translate(316.10 1000.50) scale(1.03 0.963)" font-size="19.7">GLO</text>
<text transform="translate(496.10 998.90) scale(1.03 0.963)" font-size="19.7">GLU</text>
<rect x="70.35" y="541.75" width="44.30" height="14.70" fill="#fff" stroke="none"/>
<path d="M70.35 546.51L75.66 541.75M70.35 553.46L83.41 541.75M74.77 556.45L91.16 541.75M82.52 556.45L98.91 541.75M90.27 556.45L106.66 541.75M98.02 556.45L114.41 541.75M105.77 556.45L114.65 548.49M113.52 556.45L114.65 555.44" fill="none" stroke="#1c1c1c" stroke-width="1.0"/>
<rect x="70.35" y="541.75" width="44.30" height="14.70" fill="none" stroke="#151515" stroke-width="1.45"/>
<text transform="translate(120.40 555.15) scale(1.045 0.963)" font-size="19.7">pH 9.3</text>
<rect x="205.55" y="541.85" width="44.60" height="14.60" fill="#fff" stroke="#444" stroke-width="0.95"/>
<text transform="translate(255.70 555.10) scale(1.04 0.963)" font-size="19.7">pH 9.3 10 min 90</text>
<text transform="translate(412.40 544.20) scale(1.1 0.87)" font-size="11" style="stroke-width:0.1px;fill:#222">o</text>
<text transform="translate(417.10 555.10) scale(1.03 0.963)" font-size="19.7">C</text>
<rect x="458.65" y="541.85" width="44.70" height="15.30" fill="#fff" stroke="none"/>
<path d="M458.65 544.96L462.09 541.85M458.65 549.88L467.52 541.85M458.65 554.80L472.95 541.85M461.49 557.15L478.38 541.85M466.92 557.15L483.81 541.85M472.35 557.15L489.24 541.85M477.78 557.15L494.67 541.85M483.21 557.15L500.10 541.85M488.64 557.15L503.35 543.82M494.07 557.15L503.35 548.74M499.50 557.15L503.35 553.66M498.59 541.85L503.35 546.16M493.16 541.85L503.35 551.08M487.73 541.85L503.35 556.00M482.30 541.85L499.19 557.15M476.87 541.85L493.76 557.15M471.44 541.85L488.33 557.15M466.01 541.85L482.90 557.15M460.58 541.85L477.47 557.15M458.65 545.02L472.04 557.15M458.65 549.94L466.61 557.15M458.65 554.86L461.18 557.15" fill="none" stroke="#262626" stroke-width="0.92"/>
<rect x="458.65" y="541.85" width="44.70" height="15.30" fill="none" stroke="#222" stroke-width="1.1"/>
<text transform="translate(509.40 555.10) scale(1.036 0.963)" font-size="19.7">pH 9.3 20 min 90</text>
<text transform="translate(666.10 544.40) scale(1.1 0.87)" font-size="11" style="stroke-width:0.1px;fill:#222">o</text>
<text transform="translate(670.50 555.10) scale(1.03 0.963)" font-size="19.7">C</text>
<text transform="translate(20.00 924.90) rotate(-90) scale(0.943 1.066)" font-size="19.7">Surface hydrophobicity (µg BPB)</text>
</svg></body></html>
